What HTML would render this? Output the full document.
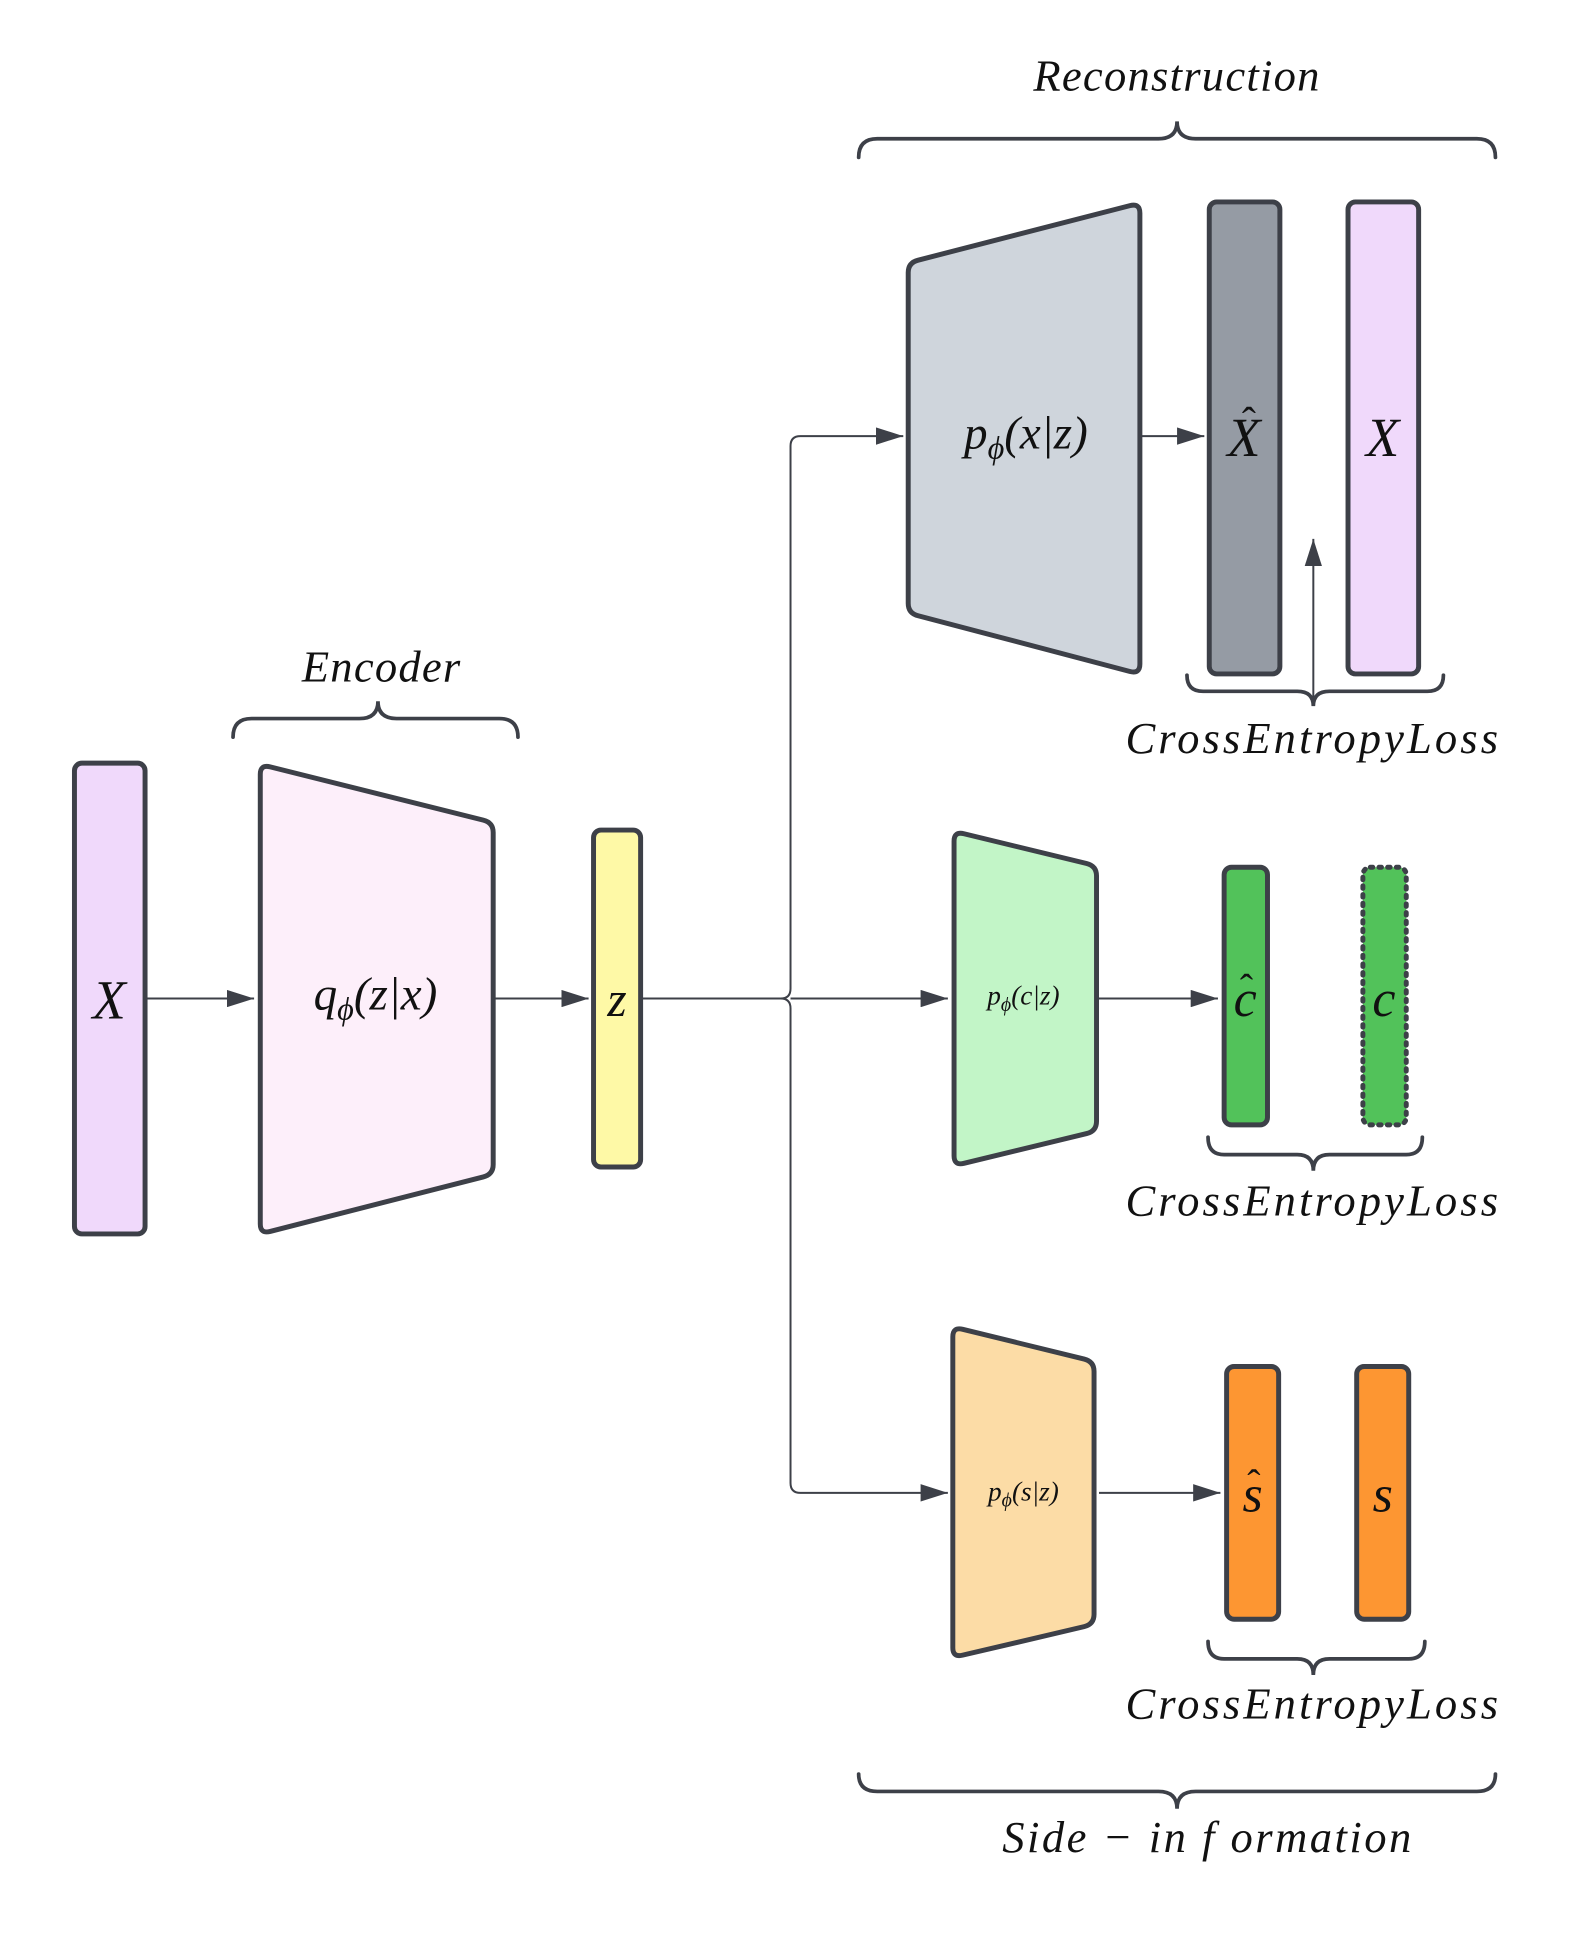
<!DOCTYPE html>
<html><head><meta charset="utf-8"><style>html,body{margin:0;padding:0;background:#fff}svg{display:block}
.t{font-family:'Liberation Serif','DejaVu Serif',serif;font-style:italic}</style></head>
<body>
<svg width="1586" height="1950" viewBox="0 0 1280 1574" xmlns="http://www.w3.org/2000/svg">
<defs>
<marker id="a" viewBox="0 0 10 10" markerWidth="22" markerHeight="14" refX="10" refY="5" orient="auto" markerUnits="userSpaceOnUse" preserveAspectRatio="none">
<path d="M0,0 L10,5 L0,10 z" fill="#3d4048"/>
</marker>
</defs>
<g class="t" style="font-family:'Liberation Serif',serif;font-style:italic" fill="#111" text-anchor="middle">
<g stroke="#3d4048" stroke-width="4" stroke-linejoin="round">
<rect x="60" y="616" width="57" height="380" rx="6" fill="#f0d9fb"/>
<path d="M210,625 Q210,617 218,619 L390,662 Q398,664 398,672 L398,940 Q398,948 390,950 L218,994 Q210,996 210,988 Z" fill="#fdeffa"/>
<rect x="479" y="670" width="38" height="272" rx="6" fill="#fef9a6"/>
<path d="M733,220 Q733,212 741,210 L912,166 Q920,164 920,172 L920,536 Q920,544 912,542 L741,497 Q733,495 733,487 Z" fill="#cfd5dc"/>
<rect x="976" y="163" width="57" height="381" rx="6" fill="#959ba4"/>
<rect x="1088" y="163" width="57" height="381" rx="6" fill="#f0d9fb"/>
<path d="M770,679 Q770,671 778,673 L877,697 Q885,699 885,707 L885,905 Q885,913 877,915 L778,939 Q770,941 770,933 Z" fill="#c2f5c7"/>
<rect x="988" y="700" width="35" height="208" rx="6" fill="#52c25a"/>
<rect x="1100" y="700" width="35" height="208" rx="6" fill="#52c25a" stroke-dasharray="2 5" stroke-linecap="round"/>
<path d="M769,1079 Q769,1071 777,1073 L875,1097 Q883,1099 883,1107 L883,1303 Q883,1311 875,1313 L777,1336 Q769,1338 769,1330 Z" fill="#fcdca6"/>
<rect x="990" y="1103" width="42" height="204" rx="6" fill="#fd9632"/>
<rect x="1095" y="1103" width="42" height="204" rx="6" fill="#fd9632"/>
</g>
<g stroke="#3d4048" stroke-width="1.6" fill="none">
<path d="M117,806 H205" marker-end="url(#a)"/>
<path d="M398,806 H475" marker-end="url(#a)"/>
<path d="M517,806 H630 Q638,806 638,798 V360 Q638,352 646,352 H729" marker-end="url(#a)"/>
<path d="M630,806 Q638,806 638,814 V1197 Q638,1205 646,1205 H765" marker-end="url(#a)"/>
<path d="M638,806 H765" marker-end="url(#a)"/>
<path d="M920,352 H972" marker-end="url(#a)"/>
<path d="M885,806 H983" marker-end="url(#a)"/>
<path d="M887,1205 H985" marker-end="url(#a)"/>
<path d="M1060,565 V435" marker-end="url(#a)"/>
</g>
<g stroke="#3d4048" stroke-width="3" fill="none" stroke-linecap="round">
<path d="M188,595 Q188,580 203,580 H290 Q305,580 305,566 Q305,580 320,580 H403 Q418,580 418,595"/>
<path d="M693,127 Q693,112 708,112 H935 Q950,112 950,98 Q950,112 965,112 H1192 Q1207,112 1207,127"/>
<path d="M958,545 Q958,558 971,558 H1047 Q1060,558 1060,570 Q1060,558 1073,558 H1152 Q1165,558 1165,545"/>
<path d="M975,918 Q975,932 988,932 H1047 Q1060,932 1060,945 Q1060,932 1073,932 H1135 Q1148,932 1148,918"/>
<path d="M975,1325 Q975,1339 988,1339 H1047 Q1060,1339 1060,1352 Q1060,1339 1073,1339 H1137 Q1150,1339 1150,1325"/>
<path d="M693,1432 Q693,1446 708,1446 H935 Q950,1446 950,1460 Q950,1446 965,1446 H1192 Q1207,1446 1207,1432"/>
</g>
<text x="308" y="550" font-size="36" letter-spacing="1">Encoder</text>
<text x="950" y="73" font-size="36" letter-spacing="1">Reconstruction</text>
<text x="975" y="1495" font-size="36" letter-spacing="2">Side − in f ormation</text>
<text x="1060" y="608" font-size="36" letter-spacing="2.5">CrossEntropyLoss</text>
<text x="1060" y="981" font-size="36" letter-spacing="2.5">CrossEntropyLoss</text>
<text x="1060" y="1387" font-size="36" letter-spacing="2.5">CrossEntropyLoss</text>
<text x="88" y="822" font-size="44">X</text>
<text x="303" y="815" font-size="38">q<tspan font-size="26" dy="8">ϕ</tspan><tspan dy="-8">(z|x)</tspan></text>
<text x="498" y="820" font-size="40">z</text>
<text x="828" y="362" font-size="38">p<tspan font-size="26" dy="8">ϕ</tspan><tspan dy="-8">(x|z)</tspan></text>
<text x="1004" y="368" font-size="44">X</text>
<text x="1008" y="352" font-size="34" font-style="normal">ˆ</text>
<text x="1116" y="368" font-size="44">X</text>
<text x="826" y="811" font-size="22">p<tspan font-size="16" dy="5">ϕ</tspan><tspan dy="-5">(c|z)</tspan></text>
<text x="1005" y="820" font-size="42">c</text>
<text x="1006" y="808" font-size="32" font-style="normal">ˆ</text>
<text x="1117" y="820" font-size="42">c</text>
<text x="826" y="1211" font-size="22">p<tspan font-size="16" dy="5">ϕ</tspan><tspan dy="-5">(s|z)</tspan></text>
<text x="1011" y="1220" font-size="42">s</text>
<text x="1012" y="1208" font-size="32" font-style="normal">ˆ</text>
<text x="1116" y="1220" font-size="42">s</text>
</g>
</svg>
</body></html>
